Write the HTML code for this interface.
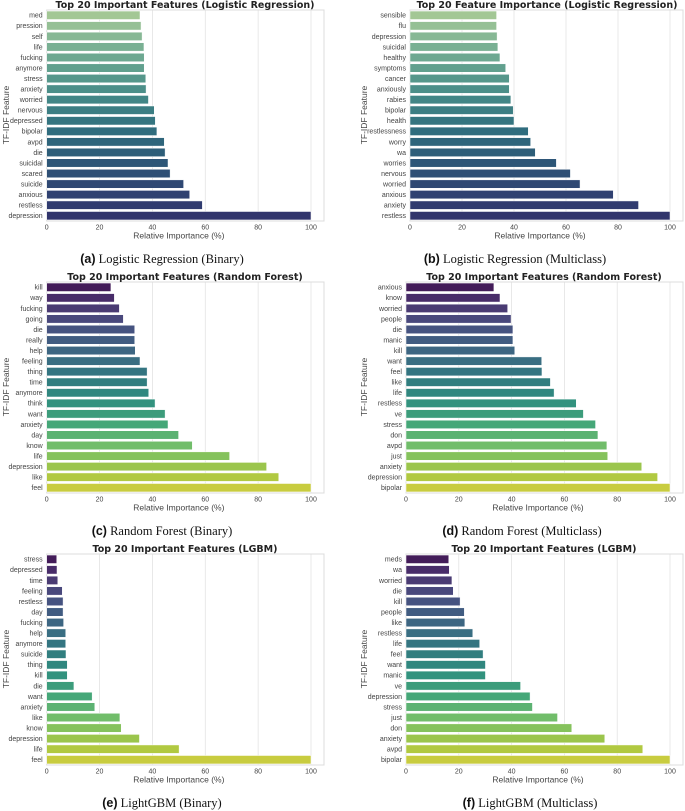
<!DOCTYPE html>
<html><head><meta charset="utf-8">
<style>
html,body{margin:0;padding:0;background:#fff;}
svg{display:block;font-family:"Liberation Sans","DejaVu Sans",sans-serif;}
.tick{font-size:7px;fill:#444;}
.ttl{font-size:9.5px;font-weight:bold;fill:#222;font-family:"DejaVu Sans","Liberation Sans",sans-serif;}
.axl{font-size:8.5px;fill:#444;}
.cap{font-size:12.5px;fill:#111;font-family:"Liberation Serif",serif;}
</style></head>
<body>
<svg id="fig" width="685" height="811" viewBox="0 0 685 811" xmlns="http://www.w3.org/2000/svg"></svg>
<script>
const ticks = [0,20,40,60,80,100];

const aLabels = ["med","pression","self","life","fucking","anymore","stress","anxiety","worried","nervous","depressed","bipolar","avpd","die","suicidal","scared","suicide","anxious","restless","depression"];
const aValues = [35.3,35.7,36.1,36.8,36.9,36.9,37.5,37.6,38.5,40.7,41.1,41.7,44.5,44.8,45.9,46.7,51.8,54.1,58.9,100];

const bLabels = ["sensible","flu","depression","suicidal","healthy","symptoms","cancer","anxiously","rabies","bipolar","health","restlessness","worry","wa","worries","nervous","worried","anxious","anxiety","restless"];
const bValues = [33.3,33.3,33.5,33.8,34.6,36.8,38.2,38.2,38.8,39.7,40.0,45.5,46.4,48.2,56.3,61.7,65.4,78.2,87.9,100];

const cLabels = ["kill","way","fucking","going","die","really","help","feeling","thing","time","anymore","think","want","anxiety","day","know","life","depression","like","feel"];
const cValues = [24.3,25.6,27.5,29.0,33.3,33.3,33.5,35.3,38.0,38.0,38.6,41.0,44.8,45.9,49.9,55.1,69.2,83.2,87.8,100];

const dLabels = ["anxious","know","worried","people","die","manic","kill","want","feel","like","life","restless","ve","stress","don","avpd","just","anxiety","depression","bipolar"];
const dValues = [33.3,35.6,38.5,39.8,40.5,40.5,41.2,51.4,51.5,54.7,56.1,64.5,67.2,71.8,72.7,76.1,76.4,89.3,95.3,100];

const eLabels = ["stress","depressed","time","feeling","restless","day","fucking","help","anymore","suicide","thing","kill","die","want","anxiety","like","know","depression","life","feel"];
const eValues = [3.8,3.9,4.2,5.9,6.2,6.2,6.4,7.2,7.2,7.3,7.8,7.8,10.3,17.2,18.2,27.7,28.2,35.1,50.1,100];

const fLabels = ["meds","wa","worried","die","kill","people","like","restless","life","feel","want","manic","ve","depression","stress","just","don","anxiety","avpd","bipolar"];
const fValues = [16.2,16.4,17.4,17.9,20.5,22.1,22.3,25.3,27.9,29.2,30.1,30.1,43.4,47.0,47.9,57.4,62.8,75.3,89.7,100];

const NS = "http://www.w3.org/2000/svg";
const svg = document.getElementById("fig");
function mk(tag, attrs, parent){ const e=document.createElementNS(NS,tag); for(const k in attrs) e.setAttribute(k,attrs[k]); (parent||svg).appendChild(e); return e; }
function hex(c){return [parseInt(c.slice(1,3),16),parseInt(c.slice(3,5),16),parseInt(c.slice(5,7),16)];}
function desat(rgb,s){
  let [r,g,b]=rgb.map(v=>v/255);
  const mx=Math.max(r,g,b), mn=Math.min(r,g,b), l=(mx+mn)/2;
  let h=0, sat=0;
  if(mx!==mn){const d=mx-mn; sat=l>0.5?d/(2-mx-mn):d/(mx+mn);
    if(mx===r) h=((g-b)/d+(g<b?6:0)); else if(mx===g) h=(b-r)/d+2; else h=(r-g)/d+4; h/=6;}
  sat*=s;
  function hue2(p,q,t){if(t<0)t+=1;if(t>1)t-=1;if(t<1/6)return p+(q-p)*6*t;if(t<1/2)return q;if(t<2/3)return p+(q-p)*(2/3-t)*6;return p;}
  if(sat===0) return [l,l,l].map(v=>Math.round(v*255));
  const q=l<0.5?l*(1+sat):l+sat-l*sat, p=2*l-q;
  return [hue2(p,q,h+1/3),hue2(p,q,h),hue2(p,q,h-1/3)].map(v=>Math.round(v*255));
}
function interp(stops,t){ const n=stops.length-1; const p=t*n; const i=Math.min(n-1,Math.floor(p)); const f=p-i; const a=hex(stops[i]),b=hex(stops[i+1]); return a.map((v,k)=>v+(b[k]-v)*f); }
function col(stops,t,s){ return "rgb("+desat(interp(stops,t),s).join(",")+")"; }
const crest=["#a2c894","#7bb494","#5a9e8e","#3f8787","#2e6f80","#2b5a7a","#2e4574","#2f346e"];
const viridis=["#440154","#482878","#3e4989","#31688e","#26828e","#1f9e89","#35b779","#6ece58","#b5de2b","#fde725"];

function panel(id, labels, values, pal, o){
  const g = mk("g",{});
  
  
  const xs = v => o.x0 + (o.x100-o.x0)*v/100;
  const top=o.y+10, bot=o.y+221, n=labels.length, step=(bot-top)/n;
  ticks.forEach(t=>{
    const l=mk("line",{x1:xs(t),x2:xs(t),y1:top,y2:bot,stroke:"#e3e3e3","stroke-width":0.8},g);
    
    
    const tx=mk("text",{x:xs(t),y:o.y+229.5,"text-anchor":"middle",class:"tick"},g);
    tx.textContent=t;
    
    
  });
  const fr=mk("rect",{x:o.x0,y:top,width:o.xr-o.x0,height:bot-top,fill:"none",stroke:"#dcdcdc","stroke-width":1},g);
  
  
  labels.forEach((lab,i)=>{
    const cy=top+step*(i+0.5), h=step*0.8;
    const c = pal==="crest" ? col(crest,i/(n-1),0.95) : col(viridis,(i+1)/(n+1),0.75);
    const r=mk("rect",{x:o.x0,y:cy-h/2,width:xs(values[i])-o.x0,height:h,fill:c,stroke:"#ffffff","stroke-width":0.5},g);
    
    
    const tl=mk("text",{x:o.x0-4,y:cy+2.4,"text-anchor":"end",class:"tick"},g);
    tl.textContent=lab;
    
    
  });
  const ti=mk("text",{x:o.tx,y:o.y+8,"text-anchor":"middle",class:"ttl"},g);
  ti.textContent=o.title;
  
  
  const xl=mk("text",{x:(o.x0+o.x100)/2,y:o.y+238.5,"text-anchor":"middle",class:"axl"},g);
  xl.textContent="Relative Importance (%)";
  
  
  const yl=mk("text",{x:0,y:0,"text-anchor":"middle",class:"axl",transform:"translate("+(o.yx)+","+(o.y+115)+") rotate(-90)"},g);
  yl.textContent="TF-IDF Feature";
  
  
  const cp=mk("text",{x:o.cx,y:o.y+263,"text-anchor":"middle",class:"cap"},g);
  const b=mk("tspan",{"font-weight":"bold","font-family":"Liberation Sans, sans-serif"},cp);
  b.textContent="("+id+")";
  const rest=mk("tspan",{},cp);
  rest.textContent=" "+o.cap;
  
  
}
const L={x0:46.7,x100:311,xr:324,yx:9,tx:185};
panel("a",aLabels,aValues,"crest",{...L,y:0,cx:162,title:"Top 20 Important Features (Logistic Regression)",cap:"Logistic Regression (Binary)"});
panel("b",bLabels,bValues,"crest",{x0:410,x100:670,xr:683,yx:367,tx:547,y:0,cx:515,title:"Top 20 Feature Importance (Logistic Regression)",cap:"Logistic Regression (Multiclass)"});
panel("c",cLabels,cValues,"viridis",{...L,y:272,cx:162,title:"Top 20 Important Features (Random Forest)",cap:"Random Forest (Binary)"});
panel("d",dLabels,dValues,"viridis",{x0:406,x100:670,xr:683,yx:367,tx:544,y:272,cx:522,title:"Top 20 Important Features (Random Forest)",cap:"Random Forest (Multiclass)"});
panel("e",eLabels,eValues,"viridis",{...L,y:544,cx:162,title:"Top 20 Important Features (LGBM)",cap:"LightGBM (Binary)"});
panel("f",fLabels,fValues,"viridis",{x0:406,x100:670,xr:683,yx:367,tx:544,y:544,cx:530,title:"Top 20 Important Features (LGBM)",cap:"LightGBM (Multiclass)"});
</script>
</body></html>
